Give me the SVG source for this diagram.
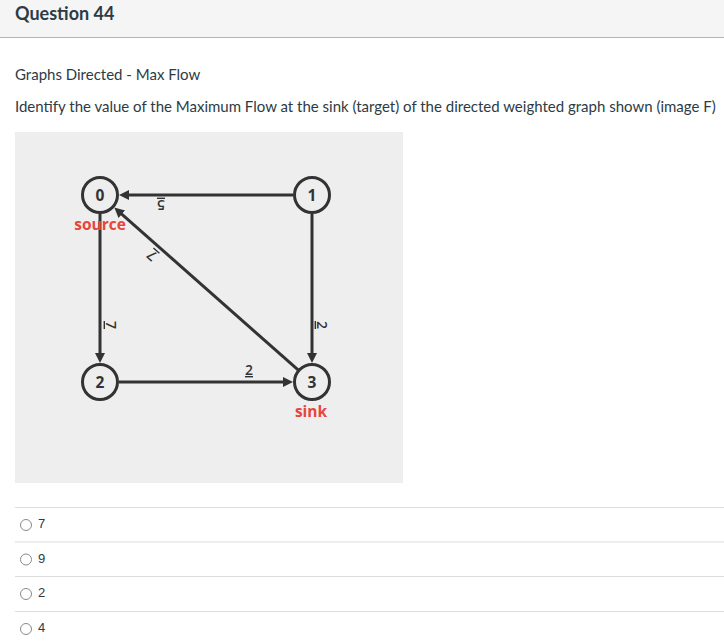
<svg xmlns="http://www.w3.org/2000/svg" width="724" height="644" viewBox="0 0 724 644">
<style>
.page{font-family:Lato,"Open Sans","Liberation Sans",sans-serif;fill:#2d3b45}
.node circle{fill:#eeeeee;stroke:#333333;stroke-width:3}
.node text{font-family:"Open Sans","Liberation Sans",sans-serif;font-size:15.5px;font-weight:700;fill:#333333;text-anchor:middle}
.node text.role{font-size:15.5px;font-weight:700;fill:#e8453c}
.edge{stroke:#333333;stroke-width:3;fill:none;marker-end:url(#arrow)}
.elabel{font-family:"Open Sans","Liberation Sans",sans-serif;font-size:14px;font-weight:600;fill:#333333;text-anchor:middle;text-decoration:underline}
.sep{stroke:#dddddd;stroke-width:1}
.radio{fill:#ffffff;stroke:#8a8a8a;stroke-width:1}
.opt{font-family:"Liberation Sans",Arial,sans-serif;font-size:13px;fill:#2d3b45}
</style>
<defs>
<marker id="arrow" markerUnits="userSpaceOnUse" markerWidth="11" markerHeight="11" refX="2" refY="5" orient="auto">
<path d="M0,0 L10,5 L0,10 z" fill="#333333"/>
</marker>
</defs>
<rect x="0" y="0" width="724" height="644" fill="#ffffff"/>
<rect x="0" y="0" width="724" height="37" fill="#f5f5f5"/>
<line x1="0" y1="37.5" x2="724" y2="37.5" stroke="#b5b5b5" stroke-width="1"/>
<text class="page" x="15" y="20" font-size="18" font-weight="700" fill="#111111">Question 44</text>
<text class="page" x="15" y="80" font-size="15">Graphs Directed - Max Flow</text>
<text class="page" x="15" y="112" font-size="15">Identify the value of the Maximum Flow at the sink (target) of the directed weighted graph shown (image F)</text>
<rect x="15" y="132" width="388" height="351" fill="#eeeeee"/>
<g id="connectors">
<line class="edge" x1="293" y1="195" x2="127" y2="195"/>
<line class="edge" x1="298.1" y1="369.8" x2="120.3" y2="212.9"/>
<line class="edge" x1="100" y1="214" x2="100" y2="355"/>
<line class="edge" x1="312" y1="214" x2="312" y2="355"/>
<line class="edge" x1="119" y1="382" x2="285" y2="382"/>
<text class="elabel" transform="translate(161,200) rotate(180)">5</text>
<text class="elabel" transform="translate(155.3,251.9) rotate(221.6)">7</text>
<text class="elabel" transform="translate(106,325) rotate(90)">7</text>
<text class="elabel" transform="translate(317,325) rotate(90)">2</text>
<text class="elabel" x="249" y="375">2</text>
</g>
<g id="node0" class="node">
<circle cx="100" cy="195" r="17.5"/>
<text x="100" y="200.5">0</text>
<text class="role" x="100" y="230">source</text>
</g>
<g id="node1" class="node">
<circle cx="312" cy="195" r="17.5"/>
<text x="312" y="200.5">1</text>
</g>
<g id="node2" class="node">
<circle cx="100" cy="382" r="17.5"/>
<text x="100" y="387.5">2</text>
</g>
<g id="node3" class="node">
<circle cx="312" cy="382" r="17.5"/>
<text x="312" y="387.5">3</text>
<text class="role" x="311" y="417">sink</text>
</g>
<line class="sep" x1="15" y1="507.5" x2="724" y2="507.5"/>
<line class="sep" x1="15" y1="542" x2="724" y2="542"/>
<line class="sep" x1="15" y1="576.5" x2="724" y2="576.5"/>
<line class="sep" x1="15" y1="611.5" x2="724" y2="611.5"/>
<circle class="radio" cx="26" cy="525" r="5.5"/>
<text class="opt" x="38" y="528">7</text>
<circle class="radio" cx="26" cy="559.5" r="5.5"/>
<text class="opt" x="38" y="562.5">9</text>
<circle class="radio" cx="26" cy="594" r="5.5"/>
<text class="opt" x="38" y="597">2</text>
<circle class="radio" cx="26" cy="629" r="5.5"/>
<text class="opt" x="38" y="632">4</text>
</svg>
